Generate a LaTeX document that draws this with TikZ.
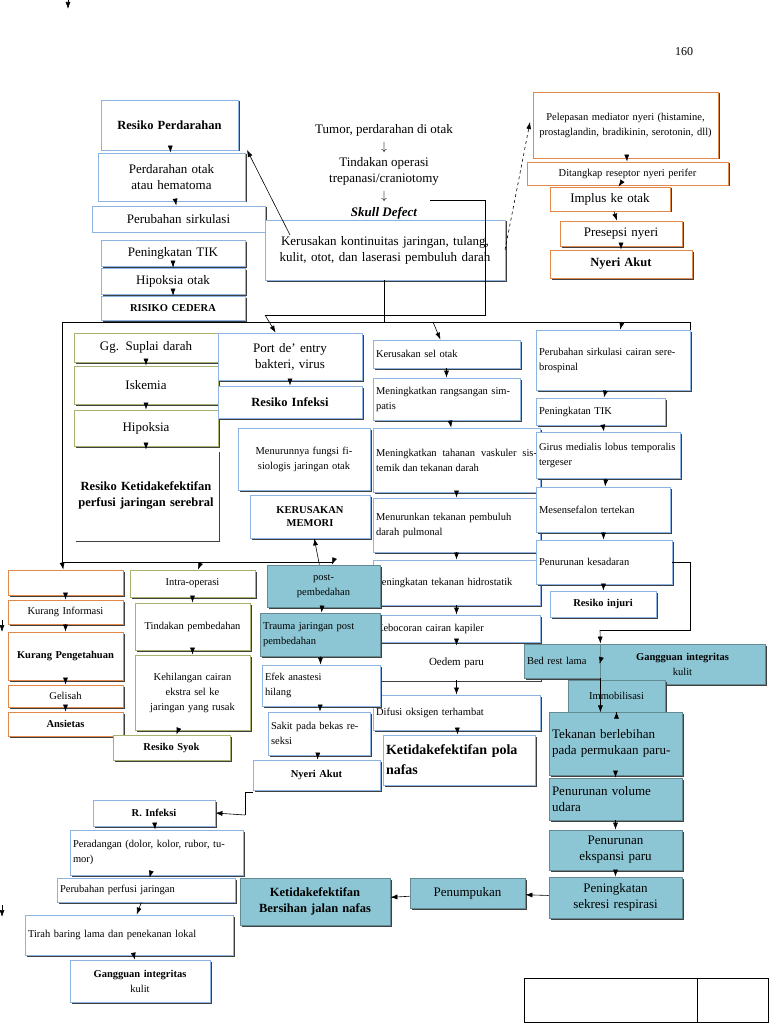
\documentclass[tikz,border=0pt]{standalone}
\usepackage{fontspec}
\setmainfont{Liberation Serif}
\usetikzlibrary{shadows,arrows.meta}
\definecolor{bblue}{HTML}{8DB3E2}
\definecolor{borange}{HTML}{E2884A}
\definecolor{bgreen}{HTML}{A5B36E}
\definecolor{tealf}{HTML}{8CC6D4}
\tikzset{
  box/.style={draw=bblue, fill=white, line width=0.8pt, inner sep=2pt, align=center,
    font=\fontsize{10.5}{15}\selectfont,
    drop shadow={shadow xshift=1.5pt, shadow yshift=-1.5pt, fill=black!75, opacity=1}},
  obox/.style={box, draw=borange},
  gbox/.style={box, draw=bgreen},
  tbox/.style={box, fill=tealf, draw=tealf!70!black},
  big/.style={font=\fontsize{13}{16}\selectfont},
  hd/.style={font=\bfseries\fontsize{12.5}{16}\selectfont},
  sb/.style={font=\bfseries\fontsize{10.5}{13}\selectfont},
  arr/.style={-{Latex[length=7pt,width=5pt]}, black, line width=0.6pt},
  ln/.style={black, line width=0.6pt}
}
\newcommand\bx[7][]{%
  \pgfmathsetmacro\bw{#5-#3}\pgfmathsetmacro\bh{#6-#4}\pgfmathsetmacro\tw{#5-#3-6}%
  \node[box, #1, minimum width=\bw pt, minimum height=\bh pt, text width=\tw pt]
    (#2) at ({(#3+#5)/2},{(#4+#6)/2}) {#7};
}
\begin{document}
\begin{tikzpicture}[x=1pt,y=-1pt]
\useasboundingbox (0,0) rectangle (768,1024);
% header
\node[font=\fontsize{12}{14}\selectfont] (page) at (684,52) {160};
\coordinate (t0) at (68,0); \coordinate (t1) at (68,9);
\draw[arr] (t0) -- (t1);
\node[big] (tumor) at (384,130) {Tumor, perdarahan di otak};
\node[big, align=center] (ops) at (384,171) {Tindakan operasi\\trepanasi/craniotomy};
\node[big, font=\bfseries\itshape\fontsize{13}{16}\selectfont] (skull) at (384,213) {Skull Defect};
\node[big] at (384,148) {$\downarrow$};
\node[big] at (384,197) {$\downarrow$};
\node[big] at (384,230) {$\downarrow$};
% top left
\bx[hd]{rp}{101}{100}{238}{150}{Resiko Perdarahan}
\bx[big]{po}{98}{153}{245}{201}{Perdarahan otak atau hematoma}
\bx[big]{ps}{92}{206}{265}{232}{Perubahan sirkulasi}
\bx[big]{ptik}{101}{240}{245}{266}{Peningkatan TIK}
\bx[big]{ho}{101}{268}{245}{294}{Hipoksia otak}
\bx[sb]{rc}{101}{296}{245}{320}{RISIKO CEDERA}
\bx[big]{kk}{265}{220}{505}{280}{Kerusakan kontinuitas jaringan, tulang, kulit, otot, dan laserasi pembuluh darah}
% top right
\bx[obox]{pm}{533}{92}{718}{158}{Pelepasan mediator nyeri (histamine, prostaglandin, bradikinin, serotonin, dll)}
\bx[obox]{dr}{527}{162}{728}{185}{Ditangkap reseptor nyeri perifer}
\bx[obox, big]{ik}{550}{187}{670}{211}{Implus ke otak}
\bx[obox, big]{pn}{560}{221}{682}{246}{Presepsi nyeri}
\bx[obox, hd]{na}{550}{250}{692}{278}{Nyeri Akut}
% middle left
\bx[gbox, big]{gs}{74}{333}{218}{362}{Gg. Suplai darah}
\bx[gbox, big]{isk}{74}{366}{218}{404}{Iskemia}
\bx[gbox, big]{hip}{74}{410}{218}{446}{Hipoksia}
\bx[draw=white, drop shadow={opacity=0}, hd]{rk}{74}{450}{218}{540}{Resiko Ketidakefektifan perfusi jaringan serebral}
\bx[big]{pe}{218}{333}{362}{380}{Port de' entry bakteri, virus}
\bx[hd]{ri}{218}{386}{362}{418}{Resiko Infeksi}
\bx{mf}{238}{428}{370}{490}{Menurunnya fungsi fisiologis jaringan otak}
\bx[sb]{km}{250}{495}{370}{538}{KERUSAKAN MEMORI}
% center column
\bx[align=left]{ks}{373}{340}{520}{368}{Kerusakan sel otak}
\bx[align=left]{mr}{373}{378}{520}{420}{Meningkatkan rangsangan simpatis}
\bx[align=justify]{mt}{373}{428}{540}{492}{Meningkatkan tahanan vaskuler sistemik dan tekanan darah}
\bx[align=left]{mtp}{373}{498}{540}{552}{Menurunkan tekanan pembuluh darah pulmonal}
\bx[align=left]{pth}{373}{560}{540}{605}{Peningkatan tekanan hidrostatik}
\bx[align=left]{kc}{373}{615}{540}{642}{Kebocoran cairan kapiler}
\bx[draw=white, drop shadow={opacity=0}, font=\fontsize{11}{13}\selectfont]{oe}{373}{646}{540}{680}{Oedem paru}
\bx[align=left]{dox}{373}{695}{540}{730}{Difusi oksigen terhambat}
\bx[align=left, font=\bfseries\fontsize{14}{20}\selectfont]{kpn}{383}{735}{535}{785}{Ketidakefektifan pola nafas}
% right column
\bx[align=left]{psc}{536}{330}{690}{390}{Perubahan sirkulasi cairan serebrospinal}
\bx[align=left]{ptk}{536}{398}{665}{425}{Peningkatan TIK}
\bx[align=left]{gm}{536}{432}{680}{478}{Girus medialis lobus temporalis tergeser}
\bx[align=left]{mes}{536}{487}{670}{532}{Mesensefalon tertekan}
\bx[align=left]{pk}{536}{540}{672}{584}{Penurunan kesadaran}
\bx[sb]{rij}{550}{591}{656}{617}{Resiko injuri}
\bx[tbox, drop shadow={opacity=0}, align=left]{brl}{524}{644}{600}{678}{Bed rest lama}
\bx[tbox]{gik}{600}{644}{765}{684}{\textbf{Gangguan integritas}\\kulit}
\bx[tbox, drop shadow={opacity=0}]{imm}{568}{680}{665}{712}{Immobilisasi}
\bx[tbox, big, align=left]{tb}{549}{712}{682}{775}{Tekanan berlebihan pada permukaan paru-}
\bx[tbox, big, align=left]{pvu}{549}{778}{682}{820}{Penurunan volume udara}
\bx[tbox, big]{pep}{549}{830}{682}{870}{Penurunan ekspansi paru}
\bx[tbox, big]{psr}{549}{877}{682}{918}{Peningkatan sekresi respirasi}
\bx[tbox, big]{pen}{410}{878}{525}{908}{Penumpukan}
\bx[tbox, hd]{kbj}{240}{878}{390}{925}{Ketidakefektifan Bersihan jalan nafas}
% bottom left
\bx[obox]{pen0}{8}{570}{123}{595}{}
\bx[obox]{ki}{8}{600}{123}{624}{Kurang Informasi}
\bx[obox, sb]{kp}{8}{632}{123}{680}{Kurang Pengetahuan}
\bx[obox]{gel}{8}{685}{123}{707}{Gelisah}
\bx[obox, sb]{ans}{8}{712}{123}{736}{Ansietas}
\bx[gbox]{io}{130}{570}{255}{597}{Intra-operasi}
\bx[gbox]{tp}{135}{603}{250}{650}{Tindakan pembedahan}
\bx[gbox]{kca}{135}{655}{250}{730}{Kehilangan cairan ekstra sel ke jaringan yang rusak}
\bx[gbox, sb]{rs}{113}{735}{230}{760}{Resiko Syok}
\bx[tbox]{postp}{267}{565}{380}{607}{post-\\pembedahan}
\bx[tbox, align=left]{tj}{260}{613}{380}{656}{Trauma jaringan post pembedahan}
\bx[align=left]{ea}{262}{665}{380}{706}{Efek anastesi\\hilang}
\bx[align=left]{sp}{268}{712}{370}{755}{Sakit pada bekas reseksi}
\bx[sb]{na2}{253}{760}{380}{790}{Nyeri Akut}
\bx[sb]{rinf}{93}{800}{215}{826}{R. Infeksi}
\bx[align=left]{pr}{70}{830}{243}{875}{Peradangan (dolor, kolor, rubor, tumor)}
\bx[align=left]{ppj}{57}{878}{235}{902}{Perubahan perfusi jaringan}
\bx[align=left]{tbl}{25}{915}{233}{955}{Tirah baring lama dan penekanan lokal}
\bx{gik2}{70}{960}{210}{1002}{\textbf{Gangguan integritas}\\kulit}
% empty table
\draw[ln] (524,978) rectangle (768,1022);
\draw[ln] (697,978) -- (697,1022);
% chains
\foreach \a/\b in {rp/po,po/ps,ptik/ho,ho/rc,pm/dr,dr/ik,ik/pn,pn/na,gs/isk,isk/hip,hip/rk,
  pe/ri,ks/mr,mr/mt,mt/mtp,mtp/pth,pth/kc,kc/oe,oe/dox,dox/kpn,psc/ptk,ptk/gm,gm/mes,mes/pk,pk/rij,
  tb/pvu,pvu/pep,pep/psr,psr/pen,pen/kbj,pen0/ki,ki/kp,kp/gel,gel/ans,
  io/tp,tp/kca,kca/rs,postp/tj,tj/ea,ea/sp,sp/na2,postp/km,rinf/pr,pr/ppj,ppj/tbl,tbl/gik2}
  \draw[arr] (\a) -- (\b);
\draw[arr] (brl.east) -- (gik.west);
\draw[arr] (brl.south east) -- (imm.south -| brl.south east);
\draw[arr] (imm) -- (tb.north -| imm);
% bus lines
\coordinate (k1) at (290,235); \coordinate (k2) at (247,150);
\draw[arr] (k1) -- (k2);
\coordinate (d1) at (505,250); \coordinate (d2) at (530,122);
\draw[arr, dashed] (d1) -- (d2);
\coordinate (s1) at (430,200); \coordinate (s2) at (485,200); \coordinate (s3) at (485,315);
\draw[ln] (s1) -- (s2) -- (s3) -- (265,315);
\coordinate (b0) at (384,280); \coordinate (b1) at (384,322);
\draw[ln] (b0) -- (b1);
\draw[ln] (62,322) -- (690,322);
\draw[arr] (433,322) -- (ks);
\draw[arr] (622,322) -- (psc);
\draw[arr] (265,315) -- (pe);
\draw[ln] (690,322) -- (690,330);
\draw[ln] (62,322) -- (62,562) -- (333,562);
\draw[arr] (62,562) -- (pen0);
\draw[arr] (201,562) -- (io);
\draw[arr] (333,562) -- (postp);
\coordinate (p1) at (690,562);
\draw[ln] (pk.east) -- (p1) -- (690,630) -- (600,630);
\draw[arr] (600,630) -- (brl.north east);
\coordinate (r1) at (245,792); \coordinate (r2) at (245,815);
\draw[ln] (na2.west |- r1) -- (r1) -- (r2);
\draw[arr] (r2) -- (rinf.east);
\coordinate (l1) at (2,620); \coordinate (l2) at (2,632);
\draw[arr] (l1) -- (l2);
\coordinate (l3) at (2,905); \coordinate (l4) at (2,917);
\draw[arr] (l3) -- (l4);
\end{tikzpicture}
\end{document}
